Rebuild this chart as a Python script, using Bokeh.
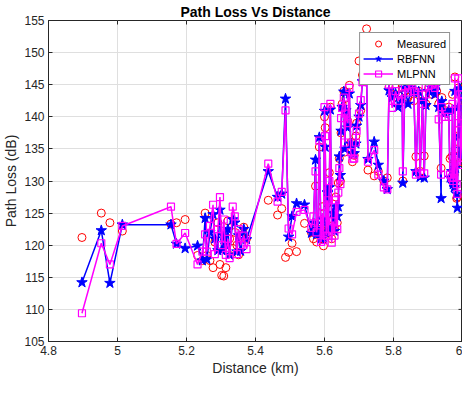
from bokeh.plotting import figure
from bokeh.models import (ColumnDataSource, Legend, LegendItem, FixedTicker,
                          CustomJSTickFormatter, Range1d)
from bokeh.embed import file_html
from bokeh.resources import INLINE

# ---------------- data ----------------
distance_km = [
    4.897, 4.953, 4.978, 5.014, 5.155, 5.171, 5.196, 5.232, 5.246,
    5.254, 5.259, 5.268, 5.277, 5.282, 5.291, 5.297, 5.302, 5.308, 5.314,
    5.320, 5.325, 5.334, 5.340, 5.346, 5.351, 5.357, 5.366, 5.374,
    5.437, 5.464, 5.476, 5.487, 5.496, 5.506, 5.519, 5.542,
    5.562, 5.568, 5.574, 5.577, 5.581, 5.585, 5.590, 5.594, 5.597, 5.600,
    5.602, 5.605, 5.608, 5.611, 5.614, 5.617, 5.621, 5.625, 5.629, 5.633,
    5.637, 5.640, 5.643, 5.646, 5.648, 5.651, 5.656, 5.659, 5.662, 5.667,
    5.672, 5.676, 5.681, 5.686, 5.691, 5.693,
    5.700, 5.705, 5.710, 5.716, 5.722, 5.726, 5.744, 5.756, 5.772, 5.782,
    5.787, 5.796, 5.806, 5.813, 5.825, 5.827, 5.833, 5.842, 5.851, 5.859,
    5.865, 5.873, 5.877, 5.884, 5.889, 5.894, 5.902,
    5.911, 5.920, 5.925, 5.931, 5.938, 5.940, 5.948, 5.960, 5.964, 5.969,
    5.971, 5.973, 5.976, 5.978, 5.980, 5.983, 5.985, 5.988, 5.990, 5.992,
    5.994, 5.997, 6.000,
]
measured_db = [
    121.2, 125.0, 123.5, 122.2, 123.3, 123.5, 124.0, 118.4, 117.6,
    125.0, 118.4, 117.6, 116.5, 120.5, 123.5, 117.0, 115.3, 115.2, 116.5,
    123.8, 121.0, 119.5, 122.0, 120.0, 118.5, 121.5, 122.8, 121.0,
    127.0, 124.7, 125.7, 118.1, 118.9, 120.3, 119.0, 123.4,
    122.0, 121.0, 129.2, 120.5, 123.0, 135.3, 122.5, 126.0, 119.9, 140.0,
    138.3, 123.0, 126.5, 122.0, 131.3, 141.5, 121.0, 124.0, 122.5, 127.5,
    123.5, 129.7, 133.5, 130.0, 137.5, 142.0, 144.0, 134.5, 142.9, 139.4,
    144.9, 136.0, 133.0, 134.0, 137.0, 139.0,
    148.7, 141.0, 146.5, 147.0, 153.7, 131.7, 130.8, 131.5, 130.0, 130.5,
    144.6, 143.5, 144.5, 142.0, 144.6, 130.0, 144.0, 143.0, 145.0, 142.5,
    133.8, 144.0, 131.5, 143.5, 133.9, 142.0, 144.5,
    143.5, 145.0, 144.0, 142.0, 132.0, 143.0, 141.0, 141.5, 133.5, 133.8,
    143.5, 130.0, 131.0, 146.2, 135.0, 127.3, 127.5, 144.5, 138.0, 144.0,
    133.0, 133.8, 142.5,
]
rbfnn_db = [
    114.2, 122.3, 114.1, 123.2, 123.2, 120.2, 119.5, 119.9, 117.6,
    124.2, 117.8, 122.0, 124.8, 121.0, 119.2, 125.5, 119.2, 121.5, 120.0,
    122.5, 118.5, 124.0, 123.5, 119.0, 121.5, 119.1, 122.5, 120.9,
    131.5, 127.5, 128.0, 142.8, 121.3, 124.5, 126.5, 126.3,
    121.9, 123.5, 133.3, 121.7, 122.5, 136.8, 121.0, 124.0, 121.2, 140.9,
    135.3, 122.0, 128.2, 123.0, 129.0, 141.1, 122.5, 125.0, 122.2, 126.0,
    124.5, 126.0, 133.8, 130.9, 137.8, 141.5, 143.9, 135.0, 141.0, 138.3,
    143.6, 135.8, 134.3, 134.3, 135.8, 138.6,
    140.0, 141.8, 145.5, 146.0, 146.5, 133.4, 136.1, 132.5, 130.0, 128.7,
    144.1, 143.0, 143.6, 141.5, 142.9, 129.7, 144.5, 142.0, 144.5, 143.8,
    131.5, 143.9, 130.6, 142.6, 130.5, 141.8, 144.0,
    144.5, 143.5, 144.9, 141.5, 127.3, 142.4, 140.5, 141.0, 130.5, 131.5,
    141.0, 129.5, 129.0, 144.0, 132.0, 128.0, 125.8, 141.5, 137.0, 144.4,
    134.0, 135.0, 143.0,
]
mlpnn_db = [
    109.4, 120.3, 117.0, 123.0, 126.0, 120.2, 121.9, 117.0, 119.0,
    121.7, 119.0, 123.0, 126.3, 118.6, 122.5, 127.5, 120.0, 124.0, 118.5,
    121.0, 118.0, 126.0, 124.5, 118.6, 122.5, 120.0, 121.5, 119.4,
    132.7, 126.8, 128.3, 141.0, 122.6, 121.7, 125.2, 125.5,
    122.7, 124.5, 131.5, 122.0, 123.5, 136.3, 120.5, 125.0, 120.8, 141.5,
    137.0, 121.5, 127.0, 121.4, 130.0, 142.0, 120.4, 123.7, 121.5, 127.0,
    122.5, 128.2, 132.0, 129.5, 139.8, 141.4, 143.0, 136.0, 140.5, 139.0,
    144.5, 134.5, 133.5, 133.5, 136.0, 137.8,
    140.5, 142.6, 145.4, 147.5, 147.0, 133.0, 134.8, 131.0, 129.0, 128.7,
    145.0, 141.4, 144.0, 142.5, 143.5, 131.5, 144.8, 143.8, 145.5, 144.0,
    131.0, 144.5, 131.2, 142.0, 131.2, 143.5, 144.8,
    145.0, 144.5, 145.5, 139.6, 131.0, 141.5, 140.0, 140.0, 131.0, 130.5,
    142.0, 130.0, 130.5, 146.0, 133.0, 129.5, 128.0, 146.0, 139.0, 143.5,
    132.5, 136.0, 143.5,
]
x_ticks = [4.8, 5.0, 5.2, 5.4, 5.6, 5.8, 6.0]
y_ticks = [105, 110, 115, 120, 125, 130, 135, 140, 145, 150, 155]

FONT = "Liberation Sans"
AX = "#262626"

src = ColumnDataSource(dict(d=distance_km, m=measured_db, r=rbfnn_db, p=mlpnn_db))

p = figure(width=462, height=378, output_backend="svg", toolbar_location=None,
           x_range=Range1d(x_ticks[0], x_ticks[-1]), y_range=Range1d(y_ticks[0], y_ticks[-1]),
           min_border_left=40, min_border_right=0, min_border_top=0, min_border_bottom=0)

p.title.text = "Path Loss Vs Distance"
p.title.align = "center"
p.title.text_font = FONT
p.title.text_font_size = "14px"
p.title.text_font_style = "bold"
p.title.text_color = "black"
p.title.standoff = 2

p.background_fill_color = "white"
p.outline_line_color = AX
p.outline_line_width = 1

xfmt = CustomJSTickFormatter(code="return String(Number(tick.toFixed(1)));")

for ax in p.xaxis:
    ax.ticker = FixedTicker(ticks=x_ticks)
    ax.formatter = xfmt
    ax.axis_label = "Distance (km)"
for ax in p.yaxis:
    ax.ticker = FixedTicker(ticks=y_ticks)
    ax.axis_label = "Path Loss (dB)"

for ax in list(p.xaxis) + list(p.yaxis):
    ax.axis_line_color = AX
    ax.major_tick_line_color = AX
    ax.major_tick_in = 4
    ax.major_tick_out = 0
    ax.minor_tick_line_color = None
    ax.major_label_text_font = FONT
    ax.major_label_text_font_size = "12px"
    ax.major_label_text_color = AX
    ax.axis_label_text_font = FONT
    ax.axis_label_text_font_size = "14px"
    ax.axis_label_text_font_style = "normal"
    ax.axis_label_text_color = AX
    ax.major_label_standoff = 4
    ax.axis_label_standoff = 2

p.xgrid.ticker = FixedTicker(ticks=x_ticks)
p.ygrid.ticker = FixedTicker(ticks=y_ticks)
p.grid.grid_line_color = "#dfdfdf"
p.grid.grid_line_width = 1

# inward tick marks on the top and right box edges (clipped to the frame)
p.scatter(x=x_ticks, y=[y_ticks[-1]] * len(x_ticks), marker="dash", size=8,
          angle=90, angle_units="deg", line_color=AX, line_width=1)
p.scatter(x=[x_ticks[-1]] * len(y_ticks), y=y_ticks, marker="dash", size=8,
          line_color=AX, line_width=1)

meas = p.scatter("d", "m", source=src, marker="circle", size=8,
                 fill_color=None, line_color="#ff0000", line_width=1)
rl = p.line("d", "r", source=src, line_color="#0000ff", line_width=1.5)
rs = p.scatter("d", "r", source=src, marker="star", size=11,
               fill_color="#0000ff", line_color="#0000ff", line_width=1)
ml = p.line("d", "p", source=src, line_color="#ff00ff", line_width=1.5)
ms = p.scatter("d", "p", source=src, marker="square", size=7,
               fill_color=None, line_color="#ff00ff", line_width=1.2)

legend = Legend(items=[
    LegendItem(label="Measured", renderers=[meas]),
    LegendItem(label="RBFNN", renderers=[rl, rs]),
    LegendItem(label="MLPNN", renderers=[ml, ms]),
], location="top_right", margin=12, padding=3, spacing=0,
   label_text_font=FONT, label_text_font_size="11px", label_text_color="black",
   label_height=15, glyph_height=15, glyph_width=30, label_standoff=4,
   border_line_color=AX, border_line_width=1, background_fill_alpha=1.0)
p.add_layout(legend, "center")

open("out.html", "w").write(file_html(p, INLINE))
